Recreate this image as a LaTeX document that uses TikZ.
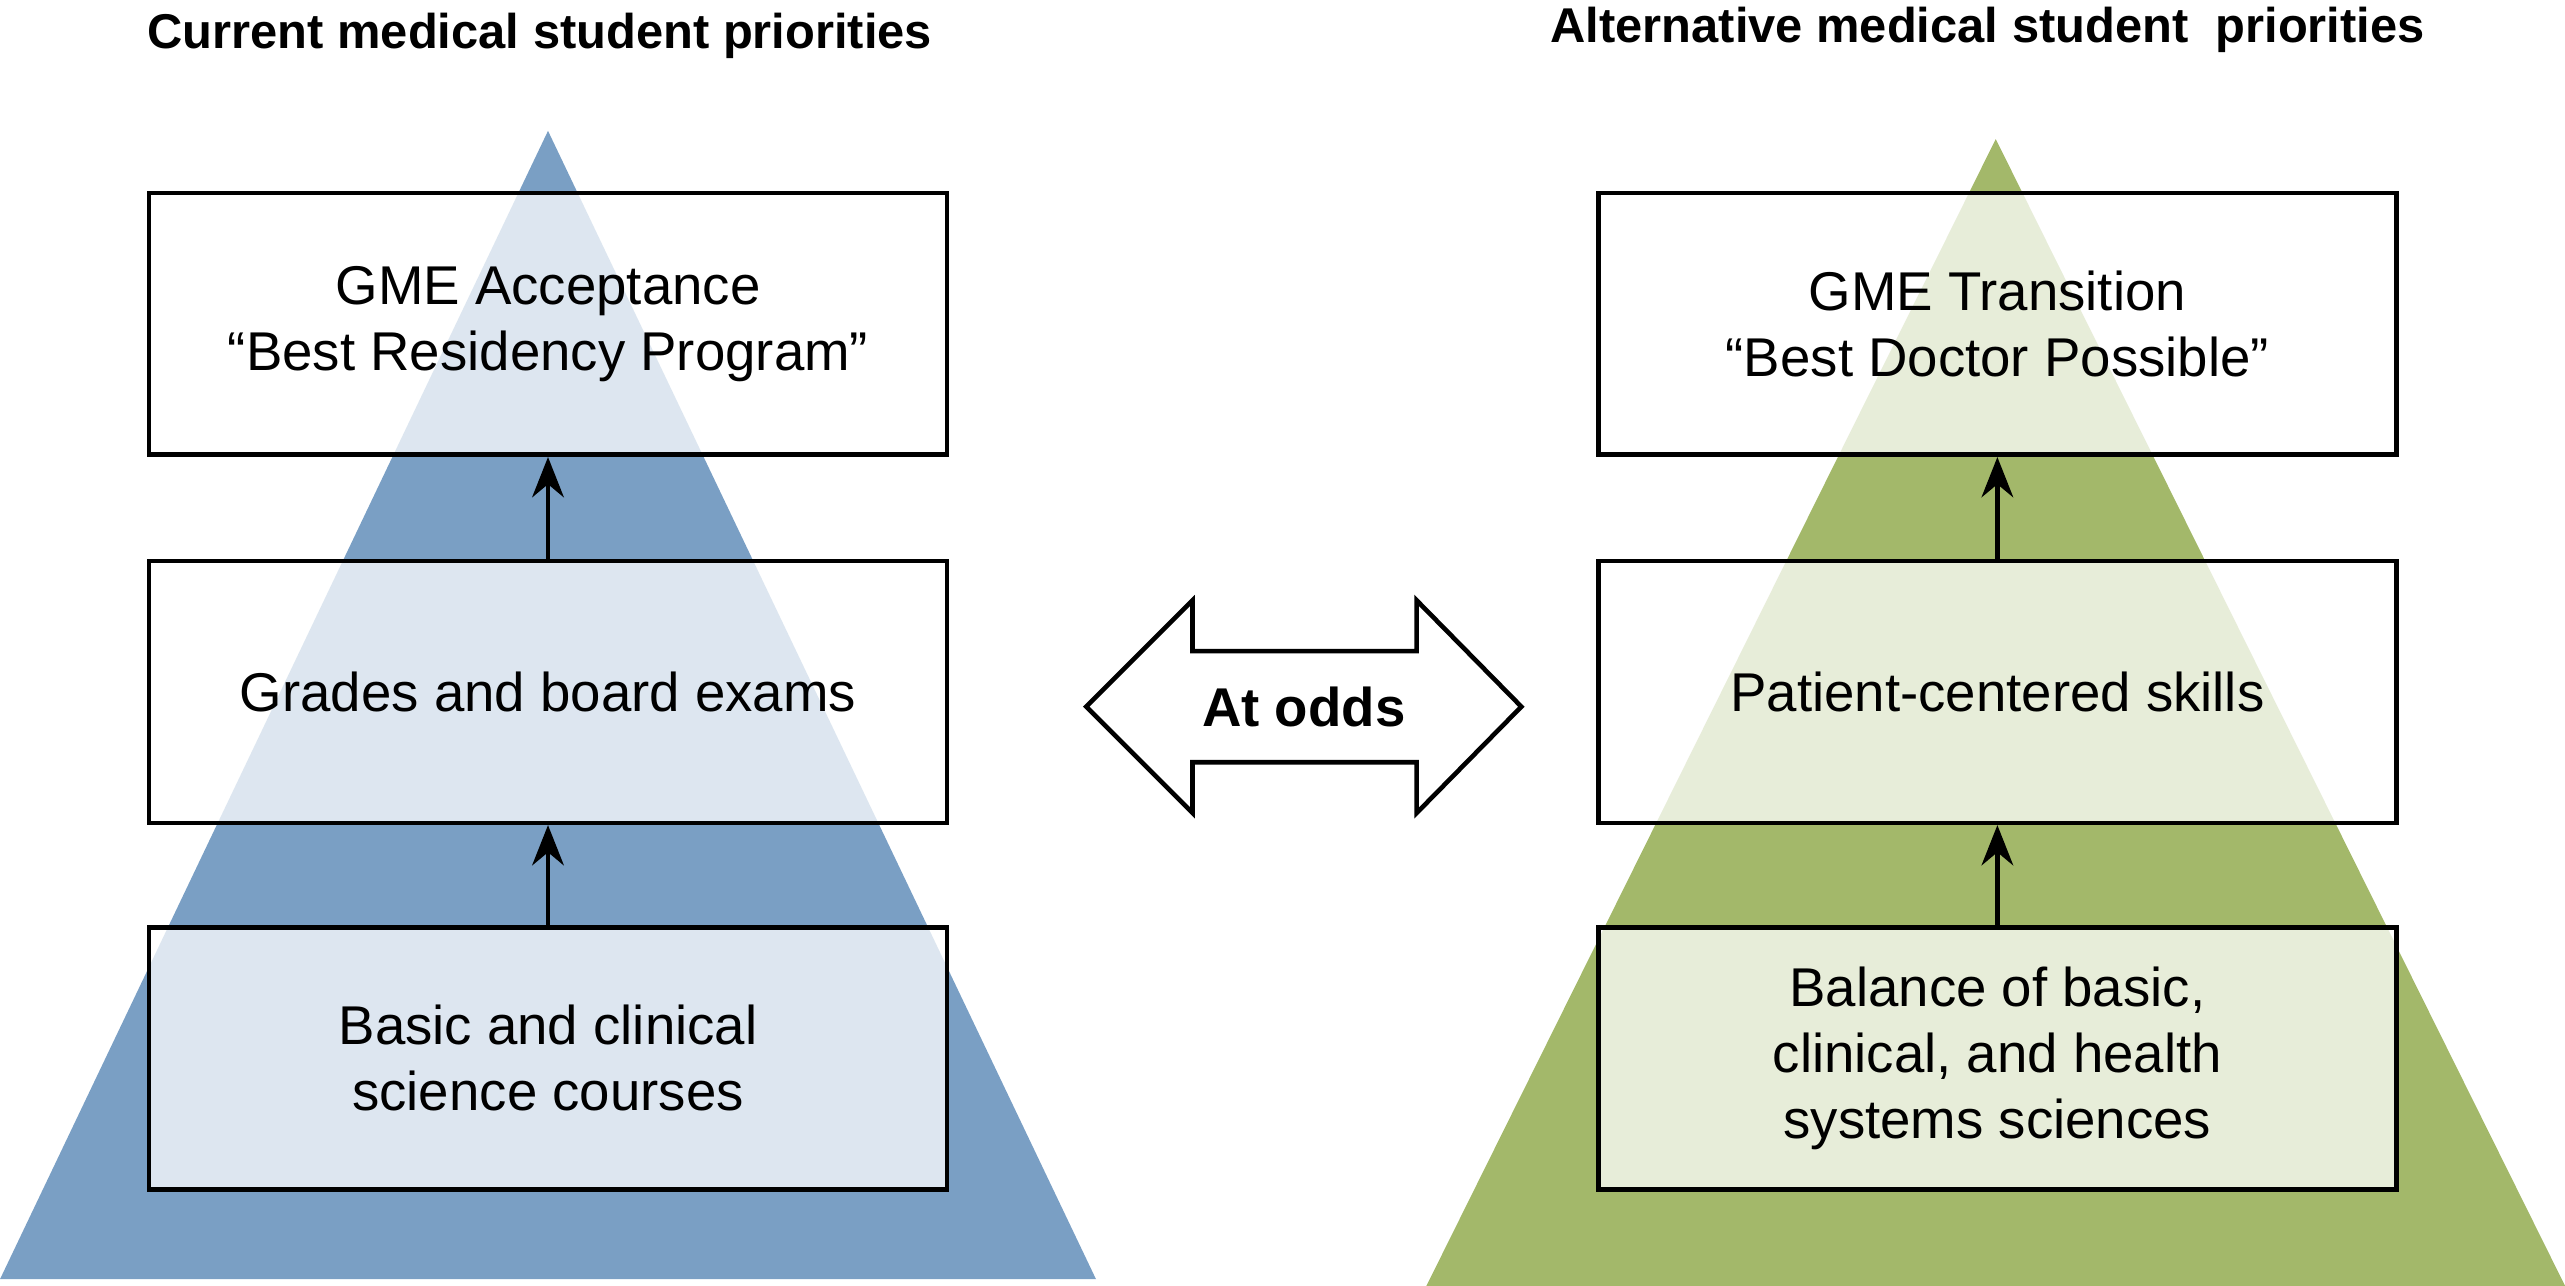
\documentclass[tikz,border=0pt]{standalone}
\usepackage{fontspec}
\setmainfont{Liberation Sans}
\usetikzlibrary{positioning,arrows.meta}
\definecolor{leftblue}{HTML}{7A9FC4}
\definecolor{rightgreen}{HTML}{A3B86A}
\begin{document}
\begin{tikzpicture}[x=0.02cm, y=-0.02cm, thick,
  level/.style = {draw, line width=1.6pt, fill=white, fill opacity=0.75, text opacity=1,
    minimum width=9.76cm, minimum height=3.2cm, align=center, font=\fontsize{19}{23}\selectfont},
  up/.style = {-{Stealth[length=14pt,width=11pt]}, line width=1.6pt},
  title/.style = {font=\fontsize{17}{20}\selectfont\bfseries}]
\useasboundingbox (0,0) rectangle (1568,786);
% pyramids
\fill[leftblue] (335,80) -- (670,782) -- (0,782) -- cycle;
\fill[rightgreen] (1220,85) -- (1568,786) -- (872,786) -- cycle;
\node[title] (lt) at (330,22) {Current medical student priorities};
\node[title] (rt) at (1215,18) {Alternative medical student\ \ priorities};
% left column
\node[level] (gme) at (335,198) {GME Acceptance\\``Best Residency Program''};
\node[level] (grades) at (335,423) {Grades and board exams};
\node[level] (basic) at (335,647) {Basic and clinical\\science courses};
% right column
\node[level] (trans) at (1221,198) {GME Transition\\``Best Doctor Possible''};
\node[level] (skills) at (1221,423) {Patient-centered skills};
\node[level] (balance) at (1221,647) {Balance of basic,\\clinical, and health\\systems sciences};
\draw[up] (basic) -- (grades);
\draw[up] (grades) -- (gme);
\draw[up] (balance) -- (skills);
\draw[up] (skills) -- (trans);
% double arrow
\draw[line width=1.6pt, fill=white, line join=miter]
  (664,432) -- (729,367) -- (729,398) -- (866,398) -- (866,367) -- (930,432)
  -- (866,497) -- (866,466) -- (729,466) -- (729,497) -- cycle;
\node[font=\fontsize{19}{23}\selectfont\bfseries] (odds) at (797,432) {At odds};
\end{tikzpicture}
\end{document}
